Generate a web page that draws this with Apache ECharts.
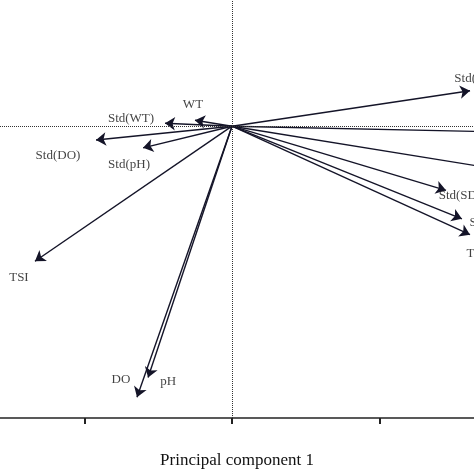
<!DOCTYPE html>
<html><head><meta charset="utf-8">
<script src="https://cdn.jsdelivr.net/npm/echarts@6/dist/echarts.min.js"></script>
<style>html,body{margin:0;padding:0;background:#fff}#c{width:474px;height:474px}</style>
</head><body><div id="c"></div>
<script>
// loading vectors (PC1, PC2)
const names = ["Std(TN)", "WT", "Std(WT)", "Std(DO)", "Std(pH)", "TSI", "DO", "pH", "TN", "Std(TP)", "Std(SD)", "SD", "TP"];
const pc1 = [1.614, -0.251, -0.454, -0.922, -0.603, -1.336, -0.644, -0.569, 1.85, 1.95, 1.451, 1.559, 1.614];
const pc2 = [0.244, 0.041, 0.020, -0.095, -0.149, -0.929, -1.864, -1.729, -0.04, -0.32, -0.441, -0.637, -0.746];
const xTicks = [-1, 0, 1];

// label offsets in px [dx, dy]
const offs = {"Std(TN)":[6,-12],"WT":[-2,-16],"Std(WT)":[-34,-5],"Std(DO)":[-38,16],"Std(pH)":[-14,17],"TSI":[-16,16],"DO":[-16,-18],"pH":[20,4],"TN":[0,0],"Std(TP)":[0,0],"Std(SD)":[14,5],"SD":[16,4],"TP":[4,19]};
const hidden = {"TN":1,"Std(TP)":1};

const chart = echarts.init(document.getElementById('c'));
const arrows = names.map((n, i) => ({coords: [[0, 0], [pc1[i], pc2[i]]]}));
const labels = names.map((n, i) => ({
  value: [pc1[i], pc2[i]],
  label: {show: !hidden[n], formatter: n, offset: offs[n]}
}));
chart.setOption({
  animation: false,
  grid: {left: 0, right: 0, top: 0, bottom: 48},
  xAxis: {
    type: 'value', min: -1.573, max: 1.641, interval: 1,
    splitLine: {show: false}, axisLabel: {show: false},
    axisLine: {onZero: false, lineStyle: {color: '#222', width: 1.5}},
    axisTick: {show: true, length: 6, customValues: xTicks, lineStyle: {color: '#222', width: 2}},
    name: 'Principal component 1', nameLocation: 'middle', nameGap: 34,
    nameTextStyle: {fontFamily: 'Liberation Serif', fontSize: 17, color: '#111'}
  },
  yAxis: {
    type: 'value', min: -2.007, max: 0.868,
    show: false, splitLine: {show: false}
  },
  series: [
    {
      type: 'lines', coordinateSystem: 'cartesian2d', clip: true,
      symbol: ['none', 'arrow'], symbolSize: 10,
      lineStyle: {color: '#141428', width: 1.4, opacity: 1},
      data: arrows,
      markLine: {
        silent: true, symbol: 'none', label: {show: false},
        lineStyle: {type: 'dotted', color: '#333', width: 1},
        data: [{xAxis: 0}, {yAxis: 0}]
      }
    },
    {
      type: 'scatter', symbolSize: 0, clip: false,
      label: {position: 'inside', fontFamily: 'Liberation Serif', fontSize: 13, color: '#111'},
      data: labels
    }
  ]
});
</script></body></html>
